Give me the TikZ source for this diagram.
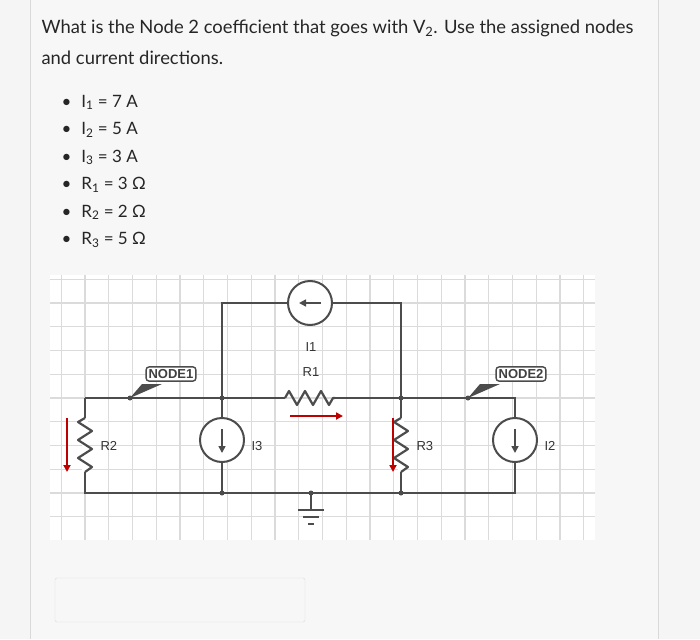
\documentclass[tikz,border=0pt]{standalone}
\usepackage{fontspec}
\setmainfont{Lato}
\newfontfamily\circfont{Liberation Sans}
\usetikzlibrary{arrows.meta}
\begin{document}
\begin{tikzpicture}[x=1pt,y=-1pt,
  wire/.style={draw=black!70,line width=2.2pt},
  src/.style={circle,draw=black!70,line width=2pt,minimum size=44pt,inner sep=0,fill=white},
  lbl/.style={font=\circfont\fontsize{13}{13}\selectfont,text=black!80},
  tag/.style={draw=black!70,line width=1.4pt,rounded corners=3pt,fill=white,font=\circfont\bfseries\fontsize{13}{13}\selectfont,text=black!75,inner sep=2.5pt},
  redarr/.style={draw=red!75!black,line width=2.6pt,-{Triangle[length=7pt,width=7pt]}},
  txt/.style={anchor=west,font=\fontsize{18.4}{18.4}\selectfont,text=black!85},
  btxt/.style={anchor=west,font=\fontsize{17}{17}\selectfont,text=black!85},
  dot/.style={circle,fill=black!70,inner sep=0,minimum size=5pt}]
\useasboundingbox (0,0) rectangle (700,639);
\fill[black!4] (0,0) rectangle (700,639);
\fill[white!97!black] (30,0) rectangle (658,639);
\draw[black!15] (30,0) -- (30,639) (658,0) -- (658,639);
% text
\node[txt] (q1) at (38,28) {What is the Node 2 coefficient that goes with V\textsubscript{2}. Use the assigned nodes};
\node[txt] (q2) at (38,58) {and current directions.};
\foreach \t [count=\i] in {I\textsubscript{1} = 7 A, I\textsubscript{2} = 5 A, I\textsubscript{3} = 3 A, R\textsubscript{1} = 3 Ω, R\textsubscript{2} = 2 Ω, R\textsubscript{3} = 5 Ω}{
  \node[btxt] (b\i) at (58,{75+27.5*\i}) {•\hspace{10pt}\t};
}
% grid
\fill[white] (50,275) rectangle (595,540);
\foreach \k in {-1,...,21} \draw[black!14,line width=1.2pt] ({85+23.75*\k},275) -- ({85+23.75*\k},540);
\foreach \k in {-1,...,9} \draw[black!14,line width=1.2pt] (50,{303+23.75*\k}) -- (595,{303+23.75*\k});
% coordinates
\coordinate (tl) at (222,303); \coordinate (tr) at (401,303);
\coordinate (ml) at (85,398); \coordinate (n1) at (222,398); \coordinate (n2) at (401,398); \coordinate (mr) at (515,398);
\coordinate (bl) at (85,493); \coordinate (b3) at (222,493); \coordinate (bg) at (311,493); \coordinate (bR) at (401,493); \coordinate (br) at (515,493);
\coordinate (p1) at (130,398); \coordinate (p2) at (468,398);
% wires
\draw[wire] (n1) -- (tl) -- (tr) -- (n2);
\draw[wire] (ml) -- (n1) -- (285,398);
\draw[wire] (335,398) -- (n2) -- (mr) -- (br) -- (bl) -- (ml);
\draw[wire] (n1) -- (b3); \draw[wire] (n2) -- (bR);
% R1
\draw[wire,line join=round] (285,398) -- (289,391) -- (297,405) -- (305,391) -- (313,405) -- (321,391) -- (329,405) -- (333,398) -- (335,398);
% R2, R3 vertical zigzags
\foreach \xx in {85,401}{
  \fill[white] (\xx-3,418) rectangle (\xx+3,472);
  \draw[wire,line join=round] (\xx,418) -- (\xx-7,422) -- (\xx+7,431) -- (\xx-7,440) -- (\xx+7,449) -- (\xx-7,458) -- (\xx+7,467) -- (\xx,472);
}
\node[lbl,anchor=west] (lR2) at (97,446) {R2};
\node[lbl,anchor=west] (lR3) at (413,446) {R3};
\node[lbl] (lR1) at (311,372) {R1};
\node[lbl] (lI1) at (311,347) {I1};
% sources
\node[src] (I1) at (310,303) {};
\draw[black!70,line width=1.6pt,-{Triangle[length=7pt,width=7pt]}] (321,303) -- (299,303);
\node[src] (I3) at (222,440) {};
\draw[black!70,line width=1.6pt,-{Triangle[length=7pt,width=7pt]}] (222,429) -- (222,453);
\node[lbl,anchor=west] (lI3) at (248,446) {I3};
\node[src] (I2) at (515,440) {};
\draw[black!70,line width=1.6pt,-{Triangle[length=7pt,width=7pt]}] (515,429) -- (515,453);
\node[lbl,anchor=west] (lI2) at (541,446) {I2};
% ground
\draw[wire] (bg) -- (311,510);
\draw[wire] (298,510) -- (324,510);
\draw[wire] (303,517) -- (319,517);
\draw[wire] (308,524) -- (314,524);
% dots
\foreach \c in {n1,n2,b3,bg,bR,p1,p2} \node[dot] at (\c) {};
% red arrows
\draw[redarr] (67,418) -- (67,472);
\draw[redarr] (393,418) -- (393,472);
\draw[redarr] (290,416) -- (343,416);
% tags
\node[tag] (t1) at (171,374) {NODE1};
\node[tag] (t2) at (521,374) {NODE2};
\fill[black!70] (p1) -- (142,384) -- (162,384) -- cycle;
\fill[black!70] (p2) -- (480,384) -- (500,384) -- cycle;
% answer box
\draw[black!15,fill=white!97!black,rounded corners=2pt] (55,578) rectangle (305,622);
\end{tikzpicture}
\end{document}
